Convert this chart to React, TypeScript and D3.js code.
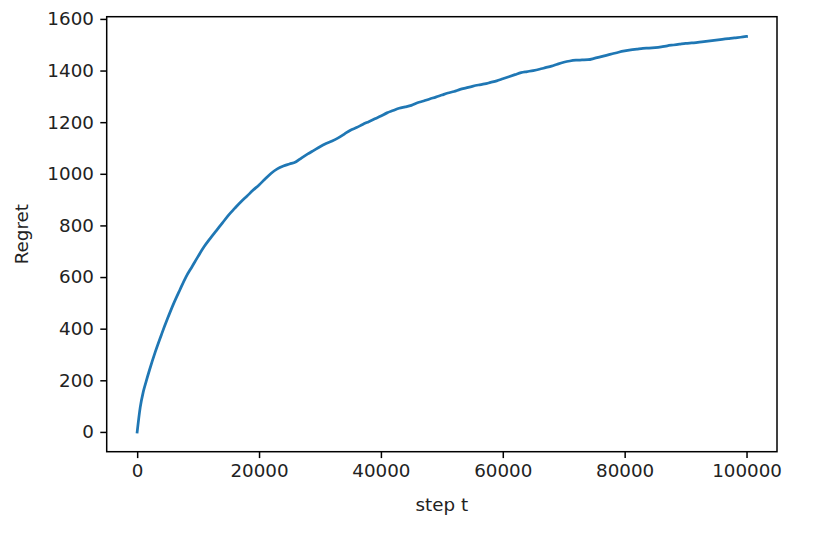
import React, { useEffect, useRef } from "react";
import * as d3 from "d3";

const steps: number[] = [
  0, 500, 1000, 1500, 2000, 3000, 4000, 5000, 6000, 7000, 8000, 9000,
  10000, 11000, 12000, 13000, 14000, 15000, 16000, 17000, 18000, 19000,
  20000, 21000, 22000, 23000, 24000, 25000, 26000, 27000, 28000, 29000,
  30000, 31000, 32000, 33000, 34000, 35000, 36000, 37000, 38000, 39000,
  40000, 41000, 42000, 43000, 44000, 45000, 46000, 47000, 48000, 49000,
  50000, 51000, 52000, 53000, 54000, 55000, 56000, 57000, 58000, 59000,
  60000, 61000, 62000, 63000, 64000, 65000, 66000, 67000, 68000, 69000,
  70000, 71000, 72000, 73000, 74000, 75000, 76000, 77000, 78000, 79000,
  80000, 81000, 82000, 83000, 84000, 85000, 86000, 87000, 88000, 89000,
  90000, 91000, 92000, 93000, 94000, 95000, 96000, 97000, 98000, 99000,
  100000,
];

const regret: number[] = [
  0, 95, 155, 198, 238, 312, 378, 440, 498, 550, 600, 640,
  680, 718, 750, 780, 810, 840, 866, 891, 913, 936,
  957, 980, 1002, 1019, 1030, 1038, 1046, 1062, 1077, 1091,
  1105, 1117, 1127, 1139, 1154, 1169, 1179, 1191, 1202, 1213,
  1224, 1236, 1245, 1254, 1259, 1265, 1275, 1282, 1290, 1297,
  1305, 1313, 1319, 1327, 1333, 1339, 1344, 1348, 1354, 1360,
  1368, 1376, 1384, 1392, 1396, 1400, 1405, 1411, 1417, 1425,
  1432, 1437, 1440, 1441, 1442, 1447, 1453, 1459, 1465, 1471,
  1476, 1480, 1483, 1486, 1487, 1489, 1492, 1496, 1499, 1502,
  1505, 1507, 1509, 1512, 1515, 1518, 1521, 1524, 1527, 1529,
  1532,
];

const xTicks: number[] = [0, 20000, 40000, 60000, 80000, 100000];
const yTicks: number[] = [0, 200, 400, 600, 800, 1000, 1200, 1400, 1600];
const xLabel = "step t";
const yLabel = "Regret";

const W = 832;
const H = 538;
const M = { left: 106.7, top: 16.7, right: 777, bottom: 451.7 };
const FONT = "'DejaVu Sans', sans-serif";
const FS = 18.3;

export default function App() {
  const ref = useRef<SVGSVGElement>(null);

  useEffect(() => {
    const svg = d3.select(ref.current);
    svg.selectAll("*").remove();

    const x = d3.scaleLinear().domain([-5000, 105000]).range([M.left, M.right]);
    const y = d3.scaleLinear().domain([-76.6, 1608.6]).range([M.bottom, M.top]);

    const data = steps.map((s, i) => [s, regret[i]] as [number, number]);

    const line = d3
      .line<[number, number]>()
      .x((d) => x(d[0]))
      .y((d) => y(d[1]))
      .curve(d3.curveMonotoneX);

    svg
      .append("path")
      .datum(data)
      .attr("d", line)
      .attr("fill", "none")
      .attr("stroke", "#1f77b4")
      .attr("stroke-width", 2.75)
      .attr("stroke-linejoin", "round")
      .attr("stroke-linecap", "square");

    // frame
    svg
      .append("rect")
      .attr("x", M.left)
      .attr("y", M.top)
      .attr("width", M.right - M.left)
      .attr("height", M.bottom - M.top)
      .attr("fill", "none")
      .attr("stroke", "#000")
      .attr("stroke-width", 1.5);

    const xAxis = d3
      .axisBottom(x)
      .tickValues(xTicks)
      .tickFormat((d) => String(d))
      .tickSize(6.4)
      .tickPadding(6.4);
    const gx = svg.append("g").attr("transform", `translate(0,${M.bottom})`).call(xAxis);
    gx.select(".domain").remove();
    gx.selectAll("line").attr("stroke", "#000").attr("stroke-width", 1.5);
    gx.selectAll("text")
      .attr("font-family", FONT)
      .attr("font-size", FS)
      .attr("fill", "#222");

    const yAxis = d3
      .axisLeft(y)
      .tickValues(yTicks)
      .tickFormat((d) => String(d))
      .tickSize(6.4)
      .tickPadding(6.4);
    const gy = svg.append("g").attr("transform", `translate(${M.left},0)`).call(yAxis);
    gy.select(".domain").remove();
    gy.selectAll("line").attr("stroke", "#000").attr("stroke-width", 1.5);
    gy.selectAll("text")
      .attr("font-family", FONT)
      .attr("font-size", FS)
      .attr("fill", "#222");

    svg
      .append("text")
      .attr("x", (M.left + M.right) / 2)
      .attr("y", 511)
      .attr("text-anchor", "middle")
      .attr("font-family", FONT)
      .attr("font-size", FS)
      .attr("fill", "#222")
      .text(xLabel);

    svg
      .append("text")
      .attr("transform", `translate(28,${(M.top + M.bottom) / 2}) rotate(-90)`)
      .attr("text-anchor", "middle")
      .attr("font-family", FONT)
      .attr("font-size", FS)
      .attr("fill", "#222")
      .text(yLabel);
  }, []);

  return (
    <svg
      ref={ref}
      width={W}
      height={H}
      style={{ position: "absolute", left: 0, top: 0, background: "#fff" }}
    />
  );
}
